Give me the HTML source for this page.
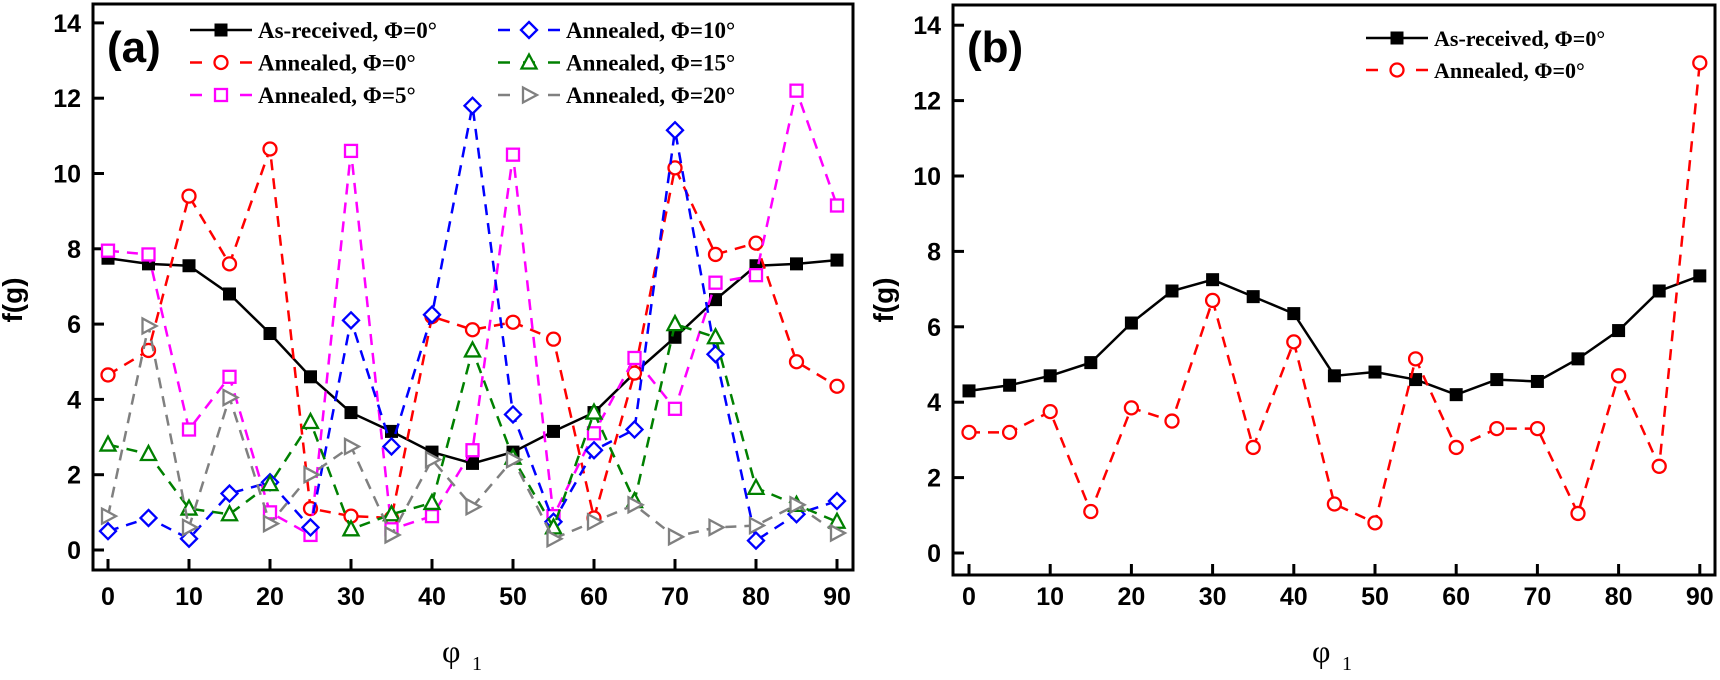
<!DOCTYPE html>
<html><head><meta charset="utf-8"><style>
html,body{margin:0;padding:0;background:#fff;width:1720px;height:680px;overflow:hidden}
svg text{font-family:"Liberation Sans",Arial,sans-serif}
.t{font-family:"Liberation Serif","Times New Roman",serif;font-weight:bold}
</style></head><body>
<svg id="s" width="1720" height="680" xmlns="http://www.w3.org/2000/svg"></svg>
<script>
const S=document.getElementById('s');let h='';
function panel(P){
 const X=v=>P.x0+v*P.dx, Y=v=>P.y0-v*P.dy;
 h+=`<rect x="${P.L}" y="${P.T}" width="${P.R-P.L}" height="${P.B-P.T}" fill="none" stroke="#000" stroke-width="3"/>`;
 for(let v=0;v<=90;v+=10){h+=`<line x1="${X(v)}" y1="${P.B}" x2="${X(v)}" y2="${P.B-11}" stroke="#000" stroke-width="3"/>`;
  h+=`<text x="${X(v)}" y="605" font-size="25" font-weight="bold" text-anchor="middle">${v}</text>`;}
 for(let v=0;v<=14;v+=2){h+=`<line x1="${P.L}" y1="${Y(v)}" x2="${P.L+11}" y2="${Y(v)}" stroke="#000" stroke-width="3"/>`;
  h+=`<text x="${P.L-12}" y="${Y(v)+9}" font-size="25" font-weight="bold" text-anchor="end">${v}</text>`;}
 h+=`<text transform="translate(${P.fx},300) rotate(-90)" font-size="28" font-weight="bold" text-anchor="middle">f(g)</text>`;
 h+=`<text class="t" x="${P.px}" y="662" font-size="32" font-weight="normal" style="font-weight:normal">φ</text><text class="t" x="${P.px+30}" y="670" font-size="20" style="font-weight:normal">1</text>`;
 h+=`<text x="${P.L+14}" y="62" font-size="44" font-weight="bold">${P.lab}</text>`;
 P.series.forEach(s=>{
  let pts=s.d.map((v,i)=>[X(i*5),Y(v)]);
  h+=`<polyline points="${pts.map(p=>p.join(',')).join(' ')}" fill="none" stroke="${s.c}" stroke-width="2.5" ${s.dash?'stroke-dasharray="11,8"':''}/>`;
  pts.forEach(p=>h+=mk(s.m,p[0],p[1],s.c));
 });
}
function mk(m,x,y,c){
 if(m=='sq')return `<rect x="${x-6.5}" y="${y-6.5}" width="13" height="13" fill="#000"/>`;
 if(m=='o')return `<circle cx="${x}" cy="${y}" r="6.5" fill="#fff" stroke="${c}" stroke-width="2.3"/>`;
 if(m=='osq')return `<rect x="${x-6}" y="${y-6}" width="12" height="12" fill="#fff" stroke="${c}" stroke-width="2.3"/>`;
 if(m=='d')return `<polygon points="${x},${y-8} ${x+8},${y} ${x},${y+8} ${x-8},${y}" fill="#fff" stroke="${c}" stroke-width="2.3"/>`;
 if(m=='t')return `<polygon points="${x},${y-8} ${x+7.5},${y+6} ${x-7.5},${y+6}" fill="#fff" stroke="${c}" stroke-width="2.3"/>`;
 if(m=='r')return `<polygon points="${x+8},${y} ${x-6},${y-7.5} ${x-6},${y+7.5}" fill="#fff" stroke="${c}" stroke-width="2.3"/>`;
}
function leg(x,y,s,txt,fs){
 h+=`<line x1="${x}" y1="${y}" x2="${x+62}" y2="${y}" stroke="${s.c}" stroke-width="2.5" ${s.dash?'stroke-dasharray="12,13"':''}/>`;
 h+=mk(s.m,x+31,y,s.c);
 h+=`<text class="t" x="${x+68}" y="${y+8}" font-size="${fs}">${txt}</text>`;
}
const A=[
 {c:'#000',m:'sq',dash:0,d:[7.75,7.6,7.55,6.8,5.75,4.6,3.65,3.15,2.6,2.3,2.6,3.15,3.65,4.7,5.65,6.65,7.55,7.6,7.7]},
 {c:'#ff0000',m:'o',dash:1,d:[4.65,5.3,9.4,7.6,10.65,1.1,0.9,0.85,6.2,5.85,6.05,5.6,0.85,4.7,10.15,7.85,8.15,5.0,4.35]},
 {c:'#ff00ff',m:'osq',dash:1,d:[7.95,7.85,3.2,4.6,1.0,0.4,10.6,0.55,0.9,2.65,10.5,0.9,3.1,5.1,3.75,7.1,7.3,12.2,9.15]},
 {c:'#0000ff',m:'d',dash:1,d:[0.5,0.85,0.3,1.5,1.8,0.6,6.1,2.75,6.25,11.8,3.6,0.75,2.65,3.2,11.15,5.2,0.25,0.95,1.3]},
 {c:'#008000',m:'t',dash:1,d:[2.8,2.55,1.1,0.95,1.75,3.4,0.55,0.95,1.25,5.3,2.45,0.6,3.65,1.3,6.0,5.65,1.65,1.2,0.75]},
 {c:'#808080',m:'r',dash:1,d:[0.9,5.95,0.6,4.05,0.7,2.0,2.75,0.4,2.4,1.15,2.4,0.3,0.75,1.2,0.35,0.6,0.65,1.2,0.45]}];
panel({L:93,R:853,T:4,B:570,x0:108,dx:8.1,y0:550,dy:37.65,fx:22,px:442,lab:'(a)',series:A});
const Bs=[
 {c:'#000',m:'sq',dash:0,d:[4.3,4.45,4.7,5.05,6.1,6.95,7.25,6.8,6.35,4.7,4.8,4.6,4.2,4.6,4.55,5.15,5.9,6.95,7.35]},
 {c:'#ff0000',m:'o',dash:1,d:[3.2,3.2,3.75,1.1,3.85,3.5,6.7,2.8,5.6,1.3,0.8,5.15,2.8,3.3,3.3,1.05,4.7,2.3,13.0]}];
panel({L:953,R:1715,T:5,B:575,x0:969,dx:8.12,y0:553,dy:37.7,fx:893,px:1312,lab:'(b)',series:Bs});
const nm=['As-received, Φ=0°','Annealed, Φ=0°','Annealed, Φ=5°','Annealed, Φ=10°','Annealed, Φ=15°','Annealed, Φ=20°'];
for(let i=0;i<3;i++)leg(190,30+i*32.5,A[i],nm[i],23);
for(let i=3;i<6;i++)leg(498,30+(i-3)*32.5,A[i],nm[i],23);
leg(1366,38,Bs[0],nm[0],22);leg(1366,70,Bs[1],nm[1],22);
S.innerHTML=h;
</script>
</body></html>
